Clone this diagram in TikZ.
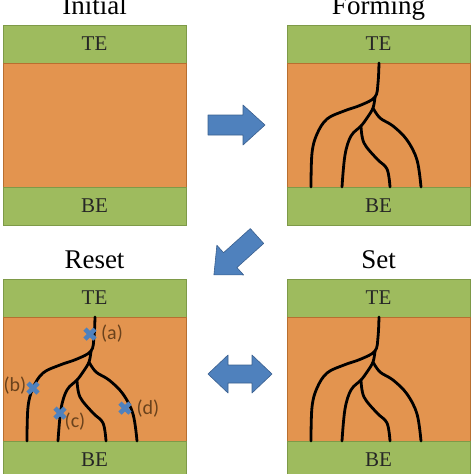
\documentclass[tikz,border=0pt]{standalone}
\usepackage{fontspec}
\setmainfont{Liberation Serif}
\newfontfamily\markfont{Carlito}
\usetikzlibrary{positioning}

\definecolor{electrode}{HTML}{9EBB5E}
\definecolor{electrodeedge}{HTML}{7E9A48}
\definecolor{oxide}{HTML}{E3944F}
\definecolor{oxideedge}{HTML}{B86F30}
\definecolor{arrowblue}{HTML}{4F81BD}
\definecolor{arrowedge}{HTML}{3A5F8E}
\definecolor{markbrown}{HTML}{6A421C}

\tikzset{
	electrodebox/.style = {fill = electrode, draw = electrodeedge, line width = 0.9pt},
	oxidebox/.style = {fill = oxide, draw = oxideedge, line width = 0.6pt},
	electrodetext/.style = {font = \fontsize{21}{24}\selectfont, text = black!85},
	titletext/.style = {font = \fontsize{27}{30}\selectfont, anchor = base},
	filament/.style = {black, line width = 2.8pt, line cap = round},
	blockarrow/.style = {fill = arrowblue, draw = arrowedge, line width = 0.6pt, line join = round},
	cross/.style = {arrowblue, line width = 4.6pt},
	crosstext/.style = {font = \markfont\fontsize{20}{22}\selectfont, text = markbrown}
}

% panel: left, top, title, name
\newcommand{\cellpanel}[4]{
	\draw [electrodebox] (#1, #2) rectangle ++(183, 38);
	\draw [oxidebox] (#1, #2 + 38) rectangle ++(183, 124);
	\draw [electrodebox] (#1, #2 + 162) rectangle ++(183, 38);
	\node [electrodetext] (#4te) at (#1 + 91.5, #2 + 19) {TE};
	\node [electrodetext] (#4be) at (#1 + 91.5, #2 + 181) {BE};
	\node [titletext] (#4title) at (#1 + 91.5, #2 - 11) {#3};
}

% conductive filament, relative to the panel corner
\newcommand{\filament}[2]{
	\begin{scope}[shift = {(#1, #2)}]
		\draw [filament] plot [smooth, tension = 0.6] coordinates {(92, 38) (91, 58) (88, 72) (74, 80) (57, 86) (40, 94) (30, 109) (25, 128) (24, 162)};
		\draw [filament] plot [smooth, tension = 0.6] coordinates {(88, 72) (86, 83) (80, 93) (74, 101) (64, 111) (58, 130) (55, 162)};
		\draw [filament] plot [smooth, tension = 0.6] coordinates {(74, 101) (77, 118) (90, 134) (100, 144) (103, 162)};
		\draw [filament] plot [smooth, tension = 0.6] coordinates {(86, 83) (93, 93) (106, 101) (120, 115) (130, 135) (134, 162)};
	\end{scope}
}

\begin{document}
\begin{tikzpicture}[x = 1pt, y = -1pt]
	\useasboundingbox (0, 0) rectangle (474, 474);
	\clip (0, 0) rectangle (474, 474);

	\cellpanel{3}{25}{Initial}{initial}
	\cellpanel{287}{25}{Forming}{forming}
	\cellpanel{3}{279}{Reset}{reset}
	\cellpanel{287}{279}{Set}{set}

	\filament{287}{25}
	\filament{287}{279}
	\filament{3}{279}

	% ruptured spots
	\foreach \px/\py/\tag/\tx/\ty in {90/334/a/112/334, 33/388/b/15/386, 60/413/c/75/422, 125/408/d/148/409} {
		\draw [cross] (\px - 5, \py - 5) -- (\px + 5, \py + 5);
		\draw [cross] (\px - 5, \py + 5) -- (\px + 5, \py - 5);
		\node [crosstext] (mark\tag) at (\tx, \ty) {(\tag)};
	}

	% transitions
	\draw [blockarrow] (208, 115) -- (243, 115) -- (243, 105) -- (265, 125) -- (243, 145) -- (243, 135) -- (208, 135) -- cycle;
	\begin{scope}[shift = {(257, 236)}, rotate = 222]
		\draw [blockarrow] (0, -10) -- (36, -10) -- (36, -20) -- (58, 0) -- (36, 20) -- (36, 10) -- (0, 10) -- cycle;
	\end{scope}
	\draw [blockarrow] (208, 374) -- (228, 355) -- (228, 365) -- (252, 365) -- (252, 355) -- (272, 374) -- (252, 393) -- (252, 383) -- (228, 383) -- (228, 393) -- cycle;
\end{tikzpicture}
\end{document}
